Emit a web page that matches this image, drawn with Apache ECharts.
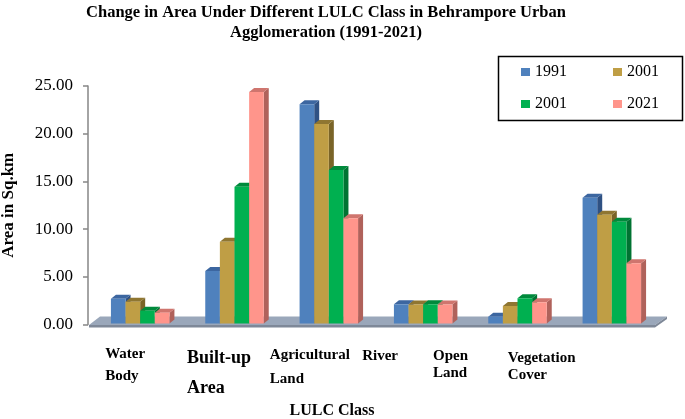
<!DOCTYPE html>
<html>
<head>
<meta charset="utf-8">
<script src="https://cdn.jsdelivr.net/npm/echarts@6/dist/echarts.min.js"></script>
<style>
  html, body { margin: 0; padding: 0; background: #fff; }
  #chart { width: 685px; height: 419px; }
</style>
</head>
<body>
<div id="chart"></div>
<script>
// values (sq.km)
var categories = ['Water\nBody', 'Built-up\nArea', 'Agricultural\nLand', 'River', 'Open\nLand', 'Vegetation\nCover'];
var seriesNames = ['1991', '2001', '2001 ', '2021'];
var v1991 = [2.70, 5.61, 23.08, 2.12, 0.82, 13.29];
var v2001 = [2.39, 8.68, 21.02, 2.10, 1.94, 11.51];
var v2001b = [1.45, 14.44, 16.20, 2.12, 2.75, 10.78];
var v2021 = [1.24, 24.37, 11.13, 2.10, 2.33, 6.42];
var yTicks = [0, 5, 10, 15, 20, 25];

var serif = "'Liberation Serif', 'Times New Roman', serif";

// front / top / side colours of the 3d bars
var faces = [
  { front: '#4F81BD', top: '#3C66A0', side: '#2F5183' },
  { front: '#BF9E45', top: '#8F7631', side: '#7A6428' },
  { front: '#00B050', top: '#008A3C', side: '#007332' },
  { front: '#FF958B', top: '#CF756E', side: '#B0625B' }
];

// the x labels in the original are left aligned and unevenly placed
var labelLook = [
  { size: 15, lh: 22, pad: 0, w: 70 },
  { size: 18, lh: 30, pad: 0, w: 95 },
  { size: 15, lh: 24, pad: 0, w: 118 },
  { size: 15, lh: 22, pad: 4, w: 122 },
  { size: 15, lh: 20, pad: 5, w: 169 },
  { size: 15, lh: 21, pad: 9, w: 208 }
];
var rich = {};
labelLook.forEach(function (l, i) {
  var base = { fontFamily: serif, fontWeight: 'bold', color: '#000', fontSize: l.size, lineHeight: l.lh, width: l.w, align: 'left' };
  rich['f' + i] = Object.assign({}, base, { padding: [l.pad, 0, 0, 0] });
  rich['n' + i] = base;
});

function barRenderer(s) {
  return function (params, api) {
    var base = api.coord([api.value(0), 0]);
    var top = api.coord([api.value(0), api.value(1)]);
    var band = api.size([1, 0])[0];
    var w = band * 0.155;
    var x = base[0] - 2 * w + s * w;
    var dx = 5, dy = -4;
    var c = faces[s];
    var yb = base[1] - 1;
    return {
      type: 'group',
      children: [
        { type: 'polygon', shape: { points: [[x + w, top[1]], [x + w + dx, top[1] + dy], [x + w + dx, yb + dy], [x + w, yb]] }, style: { fill: c.side } },
        { type: 'polygon', shape: { points: [[x, top[1]], [x + dx, top[1] + dy], [x + w + dx, top[1] + dy], [x + w, top[1]]] }, style: { fill: c.top } },
        { type: 'rect', shape: { x: x, y: top[1], width: w, height: yb - top[1] }, style: { fill: c.front } }
      ]
    };
  };
}

function floorRenderer(params, api) {
  var cs = params.coordSys;
  var x = cs.x, yb = cs.y + cs.height, w = cs.width;
  return {
    type: 'group',
    children: [
      { type: 'polygon', shape: { points: [[x - 4, yb + 0.5], [x + w - 4, yb + 0.5], [x + w + 8, yb - 8], [x + 7, yb - 8]] }, style: { fill: '#9AA7BA' } },
      { type: 'rect', shape: { x: x - 4, y: yb + 0.5, width: w, height: 2.5 }, style: { fill: '#7E8898' } },
      { type: 'polygon', shape: { points: [[x + w - 4, yb + 0.5], [x + w + 8, yb - 8], [x + w + 8, yb - 5.5], [x + w - 4, yb + 3]] }, style: { fill: '#7E8898' } }
    ]
  };
}

var allValues = [v1991, v2001, v2001b, v2021];
var series = [{
  type: 'custom',
  name: 'floor',
  z: 1,
  renderItem: floorRenderer,
  data: [[0, 0]],
  silent: true
}];
allValues.forEach(function (vals, s) {
  series.push({
    type: 'custom',
    name: seriesNames[s],
    z: 2,
    renderItem: barRenderer(s),
    itemStyle: { color: faces[s].front },
    encode: { x: 0, y: 1 },
    data: vals.map(function (v, i) { return [i, v]; })
  });
});

var chart = echarts.init(document.getElementById('chart'));
var legendText = { fontFamily: serif, fontSize: 16, lineHeight: 18, color: '#000' };

var option = {
  animation: false,
  textStyle: { fontFamily: serif },
  title: {
    text: 'Change in Area Under Different LULC Class in Behrampore Urban\nAgglomeration (1991-2021)',
    left: 326,
    top: 3,
    textAlign: 'center',
    padding: 0,
    textStyle: { fontFamily: serif, fontWeight: 'bold', fontSize: 16.5, lineHeight: 20, color: '#000' }
  },
  legend: [{
    data: ['1991', '2001'],
    left: 521, top: 63, padding: 0,
    icon: 'rect', itemWidth: 9, itemHeight: 8, itemGap: 46,
    textStyle: legendText
  }, {
    data: ['2001 ', '2021'],
    left: 521, top: 95, padding: 0,
    icon: 'rect', itemWidth: 9, itemHeight: 8, itemGap: 46,
    formatter: function (name) { return name.trim(); },
    textStyle: legendText
  }],
  graphic: [{
    type: 'rect',
    shape: { x: 498.5, y: 56.5, width: 184, height: 64 },
    style: { fill: 'none', stroke: '#000', lineWidth: 1.5 }
  }],
  grid: { left: 93, right: 26, top: 86, bottom: 94.5, outerBoundsMode: 'none', containLabel: false },
  xAxis: {
    type: 'category',
    data: categories,
    name: 'LULC Class',
    nameLocation: 'middle',
    nameGap: 74,
    nameTextStyle: { fontFamily: serif, fontWeight: 'bold', fontSize: 16, color: '#000', padding: [0, 88, 0, 0] },
    axisLine: { show: false },
    axisTick: { show: false },
    axisLabel: {
      interval: 0,
      margin: 19,
      formatter: function (value, idx) {
        return value.split('\n').map(function (line, k) {
          return '{' + (k === 0 ? 'f' : 'n') + idx + '|' + line + '}';
        }).join('\n');
      },
      rich: rich
    }
  },
  yAxis: {
    type: 'value',
    min: yTicks[0],
    max: yTicks[yTicks.length - 1],
    interval: yTicks[1] - yTicks[0],
    offset: 5,
    name: 'Area in Sq.km',
    nameLocation: 'middle',
    nameGap: 71,
    nameTextStyle: { fontFamily: serif, fontWeight: 'bold', fontSize: 17, color: '#000' },
    axisLine: { show: true, lineStyle: { color: '#868686', width: 1.5 } },
    axisTick: { show: true, length: 5, lineStyle: { color: '#868686', width: 1.5 } },
    splitLine: { show: false },
    axisLabel: {
      margin: 15,
      fontFamily: serif,
      fontSize: 17,
      color: '#000',
      formatter: function (v) { return v.toFixed(2); }
    }
  },
  series: series
};

chart.setOption(option);
</script>
</body>
</html>
